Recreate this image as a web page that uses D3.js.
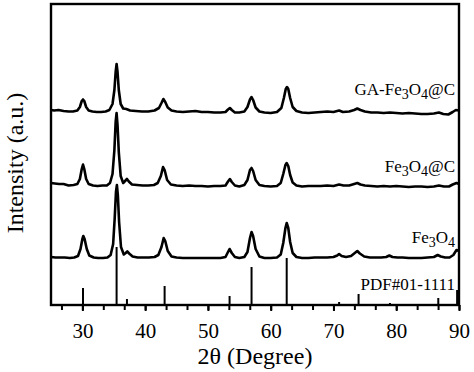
<!DOCTYPE html>
<html>
<head>
	<title> XRD patterns </title>
	<script src="https://d3js.org/d3.v7.min.js"></script>
	<style>
		body { margin: 0; background: #fff; }
		text { font-family: "Liberation Serif", "Times New Roman", serif; fill: #000; }
	</style>
</head>
<body>
	<svg width="474" height="372"></svg>
	<script type="text/javascript">
		// 2theta (deg), intensity (a.u.)
		let gaFe3o4C = [[25,195],[25.5,194.5],[26.2,195],[27,194],[27.8,193.5],[28.5,193.5],[29.2,194.5],
			[29.6,198],[29.9,204],[30.1,205.5],[30.3,204],[30.6,198],[31,194.5],[31.6,193.5],[32.3,193],
			[33,193],[33.7,193.5],[34.3,195],[34.8,201],[35.1,215],[35.3,233],[35.45,241],[35.6,233],
			[35.8,215],[36.1,201],[36.5,196.5],[37,196],[37.6,194.5],[38.5,194],[39.5,193.5],[40.5,193.5],
			[41.5,194.5],[42.2,197],[42.6,202],[42.9,206],[43.2,203],[43.6,197.5],[44.2,194.5],[45,193.5],
			[46,193],[47,193.5],[48,194],[49,193],[50,193],[51,192.5],[52,192.5],[52.8,193],[53.2,195.5],
			[53.5,197],[53.8,195],[54.3,192.5],[55,192.5],[55.8,193.5],[56.3,198],[56.7,205.5],[56.95,208],
			[57.2,205],[57.6,197.5],[58.2,193.5],[59,192.5],[60,192],[61,193],[61.7,197],[62.1,207],
			[62.4,216],[62.6,218],[62.8,216],[63.1,207],[63.5,198],[64.1,194],[65,192.5],[66,192],
			[67,192.5],[68,193],[69,193.5],[70,193],[70.9,194.5],[71.5,193],[72.5,193.5],[73.3,195],
			[73.8,196.5],[74.3,195],[75,193.5],[76,192.5],[77,192.5],[78,192],[79,192.5],[80,192],
			[81,191.5],[82,192],[83,191.5],[84,191],[85,191],[86,191.5],[86.8,192.5],[87.5,191],
			[88.3,190.5],[89,193],[89.5,195],[90,194.5]];

		let fe3o4C = [[25,122],[25.6,121.5],[26.3,121],[27,121],[27.8,119.5],[28.6,120],[29.2,121],
			[29.6,126],[29.9,136],[30.1,140.5],[30.3,136],[30.6,126],[31,121],[31.7,119.5],[32.4,119],
			[33.2,119.5],[33.9,119.5],[34.4,122],[34.8,131],[35.1,155],[35.3,183],[35.45,192],[35.6,180],
			[35.8,153],[36.1,129],[36.5,122],[36.8,124],[37.1,126],[37.4,123.5],[37.9,120.5],[38.7,120],
			[39.6,119.5],[40.5,119.5],[41.4,120],[42,122],[42.5,129],[42.85,138],[43.1,135],[43.5,125],
			[44.1,120.5],[45,119.5],[46,119],[47,119.5],[48,119],[49,119],[50,118.5],[51,119],[52,119],
			[52.8,119.5],[53.2,123.5],[53.5,126],[53.8,123],[54.3,119.5],[55,118.5],[55.8,120],[56.3,125],
			[56.7,135],[56.95,137],[57.2,134],[57.6,125],[58.2,120],[59,119],[60,118.5],[61,119],
			[61.6,122],[62,131],[62.35,140],[62.55,142],[62.8,139],[63.1,130],[63.5,122.5],[64.1,119.5],
			[65,118.5],[66,119],[67,119],[68,119],[69,119.5],[70,119],[70.9,120.5],[71.6,119.5],
			[72.5,119.5],[73.3,121],[73.8,122],[74.3,120.5],[75,119.5],[76,119],[77,118.5],[78,119],
			[79,118.5],[80,119],[81,118.5],[82,118],[83,118.5],[84,118.5],[85,118],[86,118.5],
			[86.8,119.5],[87.6,118.5],[88.4,118.5],[89,120.5],[89.6,122],[90,121]];

		let fe3o4 = [[25,48],[25.7,47.5],[26.4,47.5],[27.2,47.5],[28,47],[28.7,47.5],[29.3,49],
			[29.7,56],[30,66],[30.15,69],[30.35,66],[30.7,56],[31.1,49.5],[31.8,47.5],[32.5,47],
			[33.3,47],[34,47.5],[34.5,50],[34.9,61],[35.15,87],[35.35,113],[35.5,120],[35.65,110],
			[35.85,83],[36.15,58],[36.6,50.5],[36.9,52],[37.15,53.5],[37.45,51.5],[38,48.5],[38.8,47.5],
			[39.7,47.5],[40.6,47.5],[41.5,48],[42.1,50],[42.6,58],[42.95,67],[43.2,64],[43.6,54],
			[44.2,48.5],[45,47.5],[46,47],[47,47],[48,47],[49,47],[50,47],[51,47],[52,47],[52.8,48],
			[53.2,53],[53.45,56],[53.8,52],[54.3,48],[55,47],[55.8,48],[56.3,53],[56.7,67],[56.95,73],
			[57.2,69],[57.6,56],[58.2,48.5],[59,47],[60,47],[61,47.5],[61.6,50.5],[62,62],[62.35,77],
			[62.55,82],[62.8,77],[63.1,63],[63.5,52],[64.1,48],[65,47],[66,47],[67,47.5],[68,47.5],
			[69,47.5],[70,48],[70.6,49.5],[70.9,51],[71.3,49],[72,48],[72.8,49],[73.4,52],[73.8,54],
			[74.2,51.5],[74.9,48.5],[75.8,47.5],[76.7,47.5],[77.6,47.5],[78.4,48],[78.9,49.5],[79.4,48],
			[80.2,47.5],[81,47.5],[82,47],[83,47],[84,47],[85,47.5],[86,48],[86.6,50],[87.1,48.5],
			[87.8,47.5],[88.5,47.5],[89.1,50],[89.6,55],[90,54]];

		// PDF#01-1111 reference lines
		let pdfAngles = [30.1, 35.45, 37.1, 43.1, 53.45, 56.95, 62.55, 70.9, 74.0, 79.0, 86.7, 89.7];
		let pdfHeights = [17, 58, 6, 19, 9, 38, 47, 3, 11, 2, 7, 15];

		let xTicks = [30, 40, 50, 60, 70, 80, 90];
		let xMinorTicks = d3.range(0, 20).map(i => 90 - i * 10 / 3).filter(v => v > 25);

		let svg = d3.select("svg");
		let mLeft = 51, mRight = 459, mTop = 4, mBottom = 305;

		let x = d3.scaleLinear().domain([25, 90]).range([mLeft, mRight]);
		let y = d3.scaleLinear().domain([0, 301]).range([mBottom, mTop]);

		let line = d3.line().x(d => x(d[0])).y(d => y(d[1]));

		let plot = svg.append("g");
		[gaFe3o4C, fe3o4C, fe3o4].forEach(function(s) {
			plot.append("path").datum(s)
				.attr("fill", "none")
				.attr("stroke", "#000")
				.attr("stroke-width", 2.6)
				.attr("stroke-linejoin", "round")
				.attr("d", line);
		});

		plot.selectAll(".stick").data(pdfAngles).enter().append("line")
			.attr("x1", d => x(d)).attr("x2", d => x(d))
			.attr("y1", y(0))
			.attr("y2", (d, i) => y(pdfHeights[i]))
			.attr("stroke", "#000")
			.attr("stroke-width", 2);

		// frame
		svg.append("rect")
			.attr("x", mLeft).attr("y", mTop)
			.attr("width", mRight - mLeft).attr("height", mBottom - mTop)
			.attr("fill", "none").attr("stroke", "#000").attr("stroke-width", 2.4);

		let xAxis = svg.append("g").attr("transform", "translate(0," + mBottom + ")")
			.call(d3.axisBottom(x).tickValues(xTicks).tickSize(6).tickPadding(12).tickFormat(d3.format("d")));
		xAxis.select(".domain").remove();
		xAxis.selectAll("line").attr("stroke-width", 2);
		xAxis.selectAll("text").style("font-size", "21px").attr("font-family", null);

		let xMinor = svg.append("g").attr("transform", "translate(0," + mBottom + ")")
			.call(d3.axisBottom(x).tickValues(xMinorTicks).tickSize(5).tickFormat(""));
		xMinor.select(".domain").remove();
		xMinor.selectAll("line").attr("stroke-width", 2);

		svg.append("text")
			.attr("x", (mLeft + mRight) / 2).attr("y", 364)
			.attr("text-anchor", "middle")
			.style("font-size", "24px")
			.text("2θ (Degree)");

		svg.append("text")
			.attr("transform", "translate(23,163) rotate(-90)")
			.attr("text-anchor", "middle")
			.style("font-size", "24px")
			.text("Intensity (a.u.)");

		// series labels with subscripts
		function label(parts, yPos) {
			let t = svg.append("text")
				.attr("x", 455).attr("y", yPos)
				.attr("text-anchor", "end")
				.style("font-size", "17px");
			parts.forEach(function(p) {
				let sub = typeof p !== "string";
				let s = t.append("tspan").text(sub ? p[0] : p);
				if (sub) s.attr("dy", 4).style("font-size", "14px");
				else if (t.selectAll("tspan").size() > 1) s.attr("dy", -4);
			});
		}
		label(["GA-Fe", ["3"], "O", ["4"], "@C"], 95);
		label(["Fe", ["3"], "O", ["4"], "@C"], 172);
		label(["Fe", ["3"], "O", ["4"]], 243);
		label(["PDF#01-1111"], 290);
	</script>
</body>
</html>
